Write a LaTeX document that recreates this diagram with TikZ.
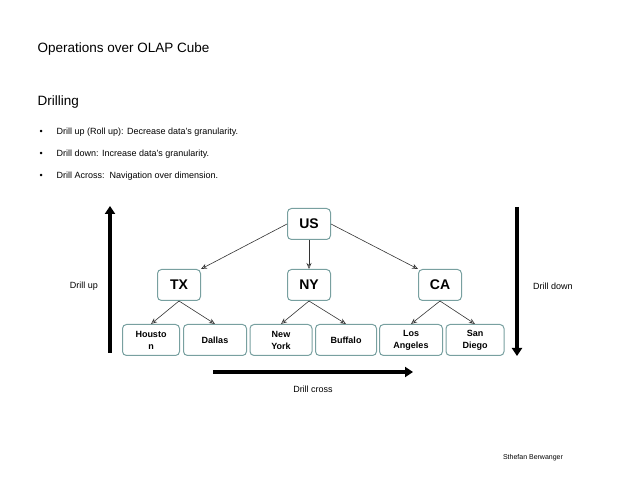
\documentclass[tikz,border=0pt]{standalone}
\usepackage{fontspec}
\setmainfont{Liberation Sans}
\usetikzlibrary{arrows.meta}
\definecolor{bd}{RGB}{120,160,160}
\begin{document}
\begin{tikzpicture}[x=1pt,y=-1pt,
  box/.style={draw=bd,line width=1pt,rounded corners=4pt,fill=white,align=center,inner sep=0pt,font=\bfseries},
  big/.style={box,minimum width=43pt,minimum height=31pt,font=\bfseries\fontsize{14}{16}\selectfont},
  leaf/.style={box,minimum height=31pt,font=\bfseries\fontsize{9}{12}\selectfont},
  con/.style={-{Stealth[length=6pt,width=5pt,open]},line width=0.6pt,draw=black!80},
  fat/.style={line width=4pt,-{Triangle[length=8pt,width=10pt]}},
  lbl/.style={font=\fontsize{9}{11}\selectfont},
  bul/.style={anchor=west,font=\fontsize{9}{11}\selectfont}]
\useasboundingbox (0,0) rectangle (638,478);
\node[anchor=west,font=\fontsize{13.5}{16}\selectfont] (title) at (34,49) {Operations over OLAP Cube};
\node[anchor=west,font=\fontsize{13.5}{16}\selectfont] (drl) at (34,102) {Drilling};
\node[bul] (b1) at (36,132) {•\hspace{14pt}Drill up (Roll up): Decrease data’s granularity.};
\node[bul] (b2) at (36,154) {•\hspace{14pt}Drill down: Increase data’s granularity.};
\node[bul] (b3) at (36,176) {•\hspace{14pt}Drill Across:\ \ Navigation over dimension.};
\node[big] (us) at (309,224) {US};
\node[big] (tx) at (179,285) {TX};
\node[big] (ny) at (309,285) {NY};
\node[big] (ca) at (440,285) {CA};
\node[leaf,minimum width=57pt] (hou) at (151,340) {Housto\\n};
\node[leaf,minimum width=63pt] (dal) at (215,340) {Dallas};
\node[leaf,minimum width=62pt] (nyc) at (281,340) {New\\York};
\node[leaf,minimum width=61pt] (buf) at (346,340) {Buffalo};
\node[leaf,minimum width=63pt] (la) at (411,340) {Los\\Angeles};
\node[leaf,minimum width=58pt] (sd) at (475,340) {San\\Diego};
\draw[con] (us.west) -- (tx.north east);
\draw[con] (us) -- (ny);
\draw[con] (us.east) -- (ca.north west);
\draw[con] (tx.south) -- (hou.north);
\draw[con] (tx.south) -- (dal.north);
\draw[con] (ny.south) -- (nyc.north);
\draw[con] (ny.south) -- (buf.north);
\draw[con] (ca.south) -- (la.north);
\draw[con] (ca.south) -- (sd.north);
\coordinate (u1) at (110,353); \coordinate (u2) at (110,206);
\coordinate (d1) at (517,207); \coordinate (d2) at (517,356);
\coordinate (c1) at (213,372); \coordinate (c2) at (413,372);
\draw[fat] (u1) -- (u2);
\draw[fat] (d1) -- (d2);
\draw[fat] (c1) -- (c2);
\node[lbl] (lu) at (84,286) {Drill up};
\node[lbl] (ld) at (553,286) {Drill down};
\node[lbl] (lc) at (313,389) {Drill cross};
\node[font=\fontsize{7}{9}\selectfont] (auth) at (533,458) {Sthefan Berwanger};
\end{tikzpicture}
\end{document}
